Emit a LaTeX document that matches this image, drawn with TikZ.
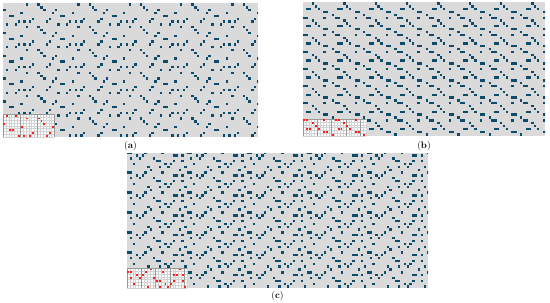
\documentclass[tikz,border=0pt]{standalone}

\definecolor{weavegrey}{RGB}{218,218,218}
\definecolor{weaveblue}{RGB}{12,76,106}
\definecolor{weavered}{RGB}{250,30,30}

\def\wcell{2.85}
\def\wgap{0.25}

% #1 left, #2 bottom, #3 width, #4 height, #5 tile cols, #6 tile rows, #7 cells
\newcommand{\weavepanel}[7]{%
  \fill[panel] (#1,#2) rectangle ++(#3,-#4);
  \begin{scope}
    \clip (#1,#2) rectangle ++(#3,-#4);
    \pgfmathtruncatemacro{\nx}{ceil(#3/(#5*\wcell))-1}
    \pgfmathtruncatemacro{\ny}{ceil(#4/(#6*\wcell))-1}
    \foreach \i in {0,...,\nx}{
      \foreach \j in {0,...,\ny}{
        \foreach \col/\row/\len in #7{
          \fill[yarn] ({#1+(\i*#5+\col)*\wcell+\wgap},{#2-(\j+1)*#6*\wcell+\row*\wcell+\wgap})
            rectangle ++({\len*\wcell-2*\wgap},{\wcell-2*\wgap});
        }
      }
    }
  \end{scope}
}

% #1 left, #2 bottom, #3 tile cols, #4 tile rows, #5 major step, #6 cells
\newcommand{\weavegrid}[6]{%
  \fill[white] (#1,#2) rectangle ++({#3*\wcell},{-#4*\wcell});
  \foreach \k in {0,...,#3}
    \draw[gridline] ({#1+\k*\wcell},#2) -- ++(0,{-#4*\wcell});
  \foreach \k in {0,...,#4}
    \draw[gridline] (#1,{#2-\k*\wcell}) -- ++({#3*\wcell},0);
  \foreach \k in {0,#5,...,#3}
    \draw[majorline] ({#1+\k*\wcell},#2) -- ++(0,{-#4*\wcell});
  \draw[majorline] (#1,{#2-#4*\wcell}) -- ++({#3*\wcell},0);
  \foreach \col/\row/\len in #6{
    \foreach \m in {1,...,\len}
      \fill[redcell] ({#1+(\col+\m-1)*\wcell+0.45},{#2-#4*\wcell+\row*\wcell+0.45})
        rectangle ++({\wcell-0.9},{\wcell-0.9});
  }
}

\def\tilea{1/0/1, 4/0/1, 8/1/1, 12/1/1, 13/2/1, 0/3/1, 14/3/1, 6/4/1, 17/4/1,
  2/5/2, 10/6/1, 16/6/1, 5/7/1, 7/7/1, 9/7/1, 15/7/1}
\def\tileb{0/0/2, 7/0/1, 11/0/2, 18/0/1, 3/1/1, 14/1/1, 4/2/1, 15/2/1,
  1/3/2, 5/3/1, 12/3/2, 16/3/1, 7/4/2, 18/4/2, 10/5/1, 21/5/1}
\def\tilec{8/0/1, 18/0/1, 0/1/2, 6/1/1, 12/1/1, 3/2/1, 5/2/1, 16/2/2, 19/2/1,
  1/3/1, 4/3/1, 9/3/1, 10/4/2, 16/4/1, 19/4/1, 2/5/1, 13/5/1, 15/5/1, 7/6/1,
  11/6/1, 14/6/1, 20/6/1}

\begin{document}
\begin{tikzpicture}[x=1pt, y=-1pt,
    panel/.style={fill=weavegrey},
    yarn/.style={fill=weaveblue},
    gridline/.style={draw=gray!35, line width=0.2pt},
    majorline/.style={draw=gray!80, line width=0.35pt},
    redcell/.style={fill=weavered},
    sublabel/.style={inner sep=0pt, font=\fontsize{9.5}{11}\selectfont}
]
\useasboundingbox (0,0) rectangle (550,303);

% Panel (a)
\weavepanel{3}{137}{255}{134}{18}{8}{\tilea}
\weavegrid{3}{137}{18}{8}{6}{\tilea}
\node[sublabel] (la) at (130.5,146) {(\textbf{a})};

% Panel (b)
\weavepanel{303}{136}{242}{134}{22}{6}{\tileb}
\weavegrid{303}{136}{22}{6}{5}{\tileb}
\node[sublabel] (lb) at (424,146) {(\textbf{b})};

% Panel (c)
\weavepanel{127}{288}{301}{135}{21}{7}{\tilec}
\weavegrid{127}{288}{21}{7}{5}{\tilec}
\node[sublabel] (lc) at (277.5,296) {(\textbf{c})};

\end{tikzpicture}
\end{document}
